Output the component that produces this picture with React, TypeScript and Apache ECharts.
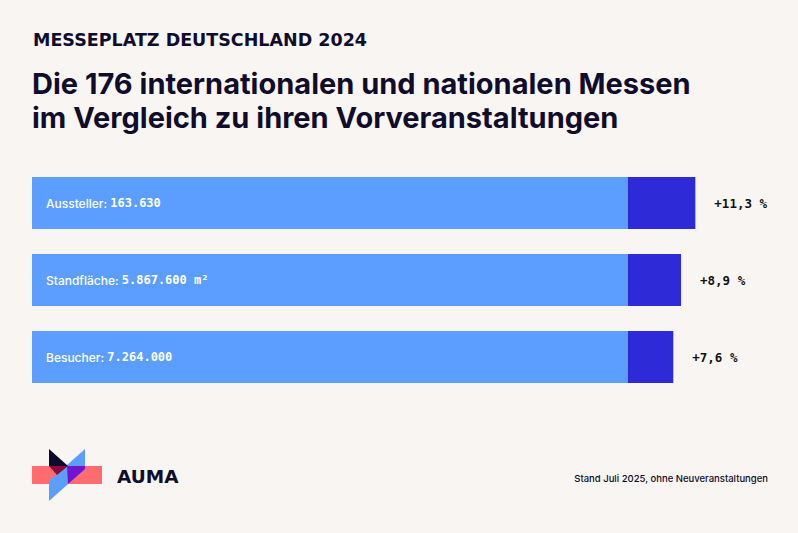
import React, { useEffect, useRef } from "react";
import * as echarts from "echarts";

const categories = ["Aussteller", "Standfläche", "Besucher"];
const totals = [163630, 5867600, 7264000];
const units = ["", " m²", ""];
const baseIndex = [100, 100, 100];
const changePct = [11.3, 8.9, 7.6];

const BG = "#F9F5F2";
const LIGHT = "#5C9EFF";
const DARK = "#2F2AD8";
const INK = "#100C2C";

const fmtNum = (v: number) => v.toLocaleString("de-DE");
const fmtPct = (v: number) => "+" + v.toFixed(1).replace(".", ",") + " %";

export default function App() {
  const ref = useRef<HTMLDivElement>(null);
  useEffect(() => {
    if (!ref.current) return;
    const chart = echarts.init(ref.current, null, { renderer: "svg" });
    chart.setOption({
      animation: false,
      backgroundColor: BG,
      grid: { left: 32, right: 21, top: 164.5, height: 231 },
      xAxis: { type: "value", min: 0, max: 125, show: false },
      yAxis: {
        type: "category",
        data: categories,
        inverse: true,
        show: false,
      },
      series: [
        {
          type: "bar",
          stack: "s",
          barWidth: 52,
          data: baseIndex,
          itemStyle: { color: LIGHT },
          label: {
            show: true,
            position: "insideLeft",
            distance: 14,
            formatter: (p: any) =>
              "{a|" + categories[p.dataIndex] + ": }{b|" + fmtNum(totals[p.dataIndex]) + units[p.dataIndex] + "}",
            rich: {
              a: { fontFamily: "Inter", fontSize: 12, fontWeight: 500, color: "#fff" },
              b: { fontFamily: "DejaVu Sans Mono", fontSize: 12, fontWeight: "bold", color: "#fff" },
            },
          },
        },
        {
          type: "bar",
          stack: "s",
          barWidth: 52,
          data: changePct,
          itemStyle: { color: DARK },
          label: {
            show: true,
            position: "right",
            distance: 19,
            formatter: (p: any) => fmtPct(changePct[p.dataIndex]),
            fontFamily: "DejaVu Sans Mono",
            fontSize: 12.5,
            fontWeight: "bold",
            color: "#111",
          },
        },
      ],
      graphic: [
        {
          type: "text",
          left: 33,
          top: 31,
          style: { text: "MESSEPLATZ DEUTSCHLAND 2024", font: "bold 17.5px 'DejaVu Sans'", fill: INK },
        },
        {
          type: "text",
          x: 32,
          y: 83,
          style: {
            text: "Die 176 internationalen und nationalen Messen",
            font: "700 29px Inter",
            fill: INK,
            textVerticalAlign: "middle",
          },
        },
        {
          type: "text",
          x: 32,
          y: 117,
          style: {
            text: "im Vergleich zu ihren Vorveranstaltungen",
            font: "700 29px Inter",
            fill: INK,
            textVerticalAlign: "middle",
          },
        },
        { type: "rect", shape: { x: 32, y: 466, width: 70, height: 18 }, style: { fill: "#FF6B6E" } },
        { type: "polygon", shape: { points: [[85, 449], [85, 469], [49, 501], [49, 481]] }, style: { fill: "#5C9EFF" } },
        { type: "polygon", shape: { points: [[67, 466], [85, 466], [85, 469], [68, 484]] }, style: { fill: "#7412D2" } },
        { type: "polygon", shape: { points: [[49, 449], [68, 466], [49, 466]] }, style: { fill: "#0E0A2A" } },
        { type: "polygon", shape: { points: [[49, 466], [68, 466], [57, 475]] }, style: { fill: "#8C0B3C" } },
        {
          type: "text",
          x: 117,
          y: 476,
          style: { text: "AUMA", font: "bold 18.5px 'DejaVu Sans'", fill: INK, textVerticalAlign: "middle" },
        },
        {
          type: "text",
          x: 768,
          y: 478,
          style: {
            text: "Stand Juli 2025, ohne Neuveranstaltungen",
            font: "500 9.5px Inter",
            fill: INK,
            textAlign: "right",
            textVerticalAlign: "middle",
          },
        },
      ],
    });
    return () => chart.dispose();
  }, []);
  return <div ref={ref} style={{ position: "absolute", left: 0, top: 0, width: 798, height: 533 }} />;
}
